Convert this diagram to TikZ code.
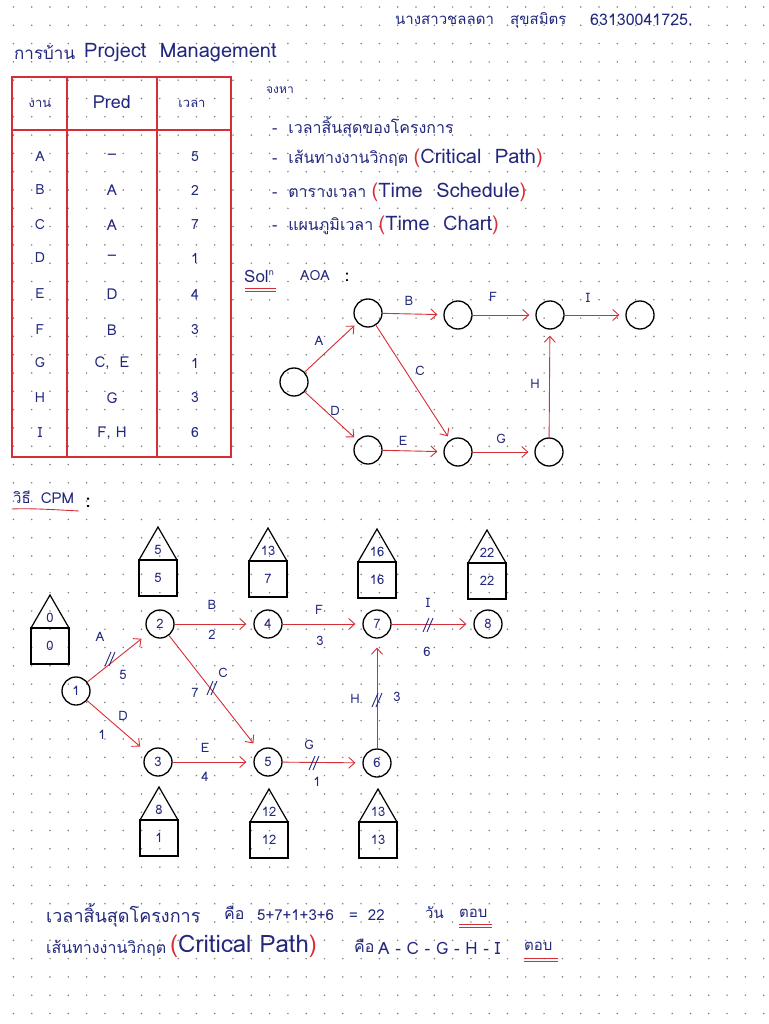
\documentclass[tikz,border=0pt]{standalone}
\usepackage{fontspec}
\setmainfont[Script=Thai]{Loma}
\usetikzlibrary{arrows.meta}
\definecolor{inkblue}{RGB}{35,40,125}
\definecolor{redink}{RGB}{215,45,55}
\definecolor{dotgray}{RGB}{125,125,125}
\newcommand\fs[1]{\fontsize{#1}{#1}\selectfont}
\newcommand\rp[1]{{\color{redink}#1}}
\tikzset{
  txt/.style={text=inkblue, inner sep=0pt},
  lbl/.style={text=inkblue, inner sep=0pt, font=\fs{13}},
  circ/.style={circle, draw=black, line width=1.3pt, minimum size=28pt, inner sep=0pt, text=inkblue, font=\fs{13}},
  redarr/.style={draw=redink, line width=0.9pt, -{Straight Barb[length=6pt,width=11pt,line width=0.9pt]}},
  slashst/.style={draw=inkblue, line width=0.9pt},
  houseline/.style={draw=black, line width=1.2pt},
  tline/.style={draw=redink, line width=1.1pt},
  uline/.style={draw=redink, line width=0.9pt}
}
% house: name, centre x, base y, roof value, box value
\newcommand\hse[5]{%
  \draw[houseline] ({#2-19},#3) -- (#2,{#3-33}) -- ({#2+19},#3) -- cycle;
  \draw[houseline] ({#2-19},#3) rectangle ({#2+19},{#3+36});
  \node[lbl] (#1r) at (#2,{#3-10}) {#4};
  \node[lbl] (#1b) at (#2,{#3+18}) {#5};}
\begin{document}
\begin{tikzpicture}[x=1pt,y=-1pt]
\useasboundingbox (0,0) rectangle (768,1024);
\fill[white] (0,0) rectangle (768,1024);
% dotted paper
\foreach \i in {0,...,41}{\foreach \j in {0,...,55}{\fill[dotgray] ({13.4+18.3*\i},{7+18.3*\j}) circle (0.85);}}

% header
\node[txt, anchor=west, font=\fs{15}] (name) at (395,20) {นางสาวชลลดา};
\node[txt, anchor=west, font=\fs{15}] (sname) at (510,20) {สุขสมิตร};
\node[txt, anchor=west, font=\fs{16}] (sid) at (590,20) {63130041725.};
\node[txt, anchor=west, font=\fs{17}] (hw) at (14,52) {การบ้าน};
\node[txt, anchor=west, font=\fs{20}] (pm) at (84,52) {Project\ \ Management};

% table
\draw[tline] (12,77) rectangle (231,457);
\draw[tline] (67,77) -- (67,457) (157,77) -- (157,457) (12,130) -- (231,130);
\node[txt, font=\fs{13}] (hTask) at (40,104) {งาน};
\node[txt, font=\fs{18}] (hPred) at (112,102) {Pred};
\node[txt, font=\fs{13}] (hTime) at (192,104) {เวลา};
\foreach \t/\p/\d/\y [count=\k] in {A/--/5/157, B/A/2/190, C/A/7/225, D/--/1/258, E/D/4/294, F/B/3/330, G/{C,\ \ E}/1/363, H/G/3/398, I/{F,\ H}/6/433}{
  \node[txt, font=\fs{14}] (t\k) at (40,\y) {\t};
  \node[txt, font=\fs{15}] (p\k) at (112,\y) {\p};
  \node[txt, font=\fs{14}] (d\k) at (195,\y) {\d};
}

% find list
\node[txt, anchor=west, font=\fs{12}] (find) at (266,90) {จงหา};
\node[txt, anchor=west, font=\fs{16}] (q1) at (272,127) {-\ \ เวลาสิ้นสุดของโครงการ};
\node[txt, anchor=west, font=\fs{16}] (q2) at (272,158) {-\ \ เส้นทางงานวิกฤต {\fs{20}\rp{(}Critical\ \ Path\rp{)}}};
\node[txt, anchor=west, font=\fs{16}] (q3) at (272,192) {-\ \ ตารางเวลา {\fs{20}\rp{(}Time\ \ Schedule\rp{)}}};
\node[txt, anchor=west, font=\fs{16}] (q4) at (272,225) {-\ \ แผนภูมิเวลา {\fs{20}\rp{(}Time\ \ Chart\rp{)}}};

% Sol AOA
\node[txt, anchor=west, font=\fs{17}] (sol) at (244,276) {Sol\textsuperscript{\fs{9}n}};
\draw[uline] (245,288) -- (276,288) (245,291.5) -- (276,291.5);
\node[txt, anchor=west, font=\fs{14}] (aoa) at (300,276) {AOA};
\node[inner sep=0pt, font=\fs{16}\bfseries] (col1) at (347,277) {:};

% AOA network
\node[circ] (a1) at (294,382) {};
\node[circ] (a2) at (368,313) {};
\node[circ] (a3) at (458,315) {};
\node[circ] (a4) at (550,315) {};
\node[circ] (a5) at (640,315) {};
\node[circ] (a6) at (368,450) {};
\node[circ] (a7) at (458,452) {};
\node[circ] (a8) at (549,452) {};
\draw[redarr, shorten >=4pt] (a1) -- (a2);
\draw[redarr, shorten >=6pt] (a2) -- (a3);
\draw[redarr, shorten >=6pt] (a3) -- (a4);
\draw[redarr, shorten >=6pt] (a4) -- (a5);
\draw[redarr, shorten >=4pt] (a2) -- (a7);
\draw[redarr, shorten >=4pt] (a1) -- (a6);
\draw[redarr, shorten >=6pt] (a6) -- (a7);
\draw[redarr, shorten >=6pt] (a7) -- (a8);
\draw[redarr, shorten >=6pt] (a8) -- (a4);
\node[lbl] (lA) at (319,341) {A};
\node[lbl] (lB) at (409,301) {B};
\node[lbl] (lF) at (493,297) {F};
\node[lbl] (lI) at (588,298) {I};
\node[lbl] (lC) at (420,371) {C};
\node[lbl] (lD) at (335,411) {D};
\node[lbl] (lE) at (403,441) {E};
\node[lbl] (lG) at (501,439) {G};
\node[lbl] (lH) at (535,384) {H};

% CPM title
\node[txt, anchor=west, font=\fs{15}] (cpm) at (13,497) {วิธี\ \ CPM};
\draw[uline] (12,509) .. controls (30,508) and (60,510) .. (79,511);
\node[inner sep=0pt, font=\fs{18}\bfseries] (col2) at (88,503) {:};

% CPM network
\node[circ] (c1) at (76,691) {1};
\node[circ] (c2) at (160,624) {2};
\node[circ] (c4) at (268,624) {4};
\node[circ] (c7) at (377,624) {7};
\node[circ] (c8) at (488,624) {8};
\node[circ] (c3) at (158,762) {3};
\node[circ] (c5) at (268,762) {5};
\node[circ] (c6) at (377,763) {6};

\hse{h1}{50}{628}{0}{0}
\hse{h2}{158}{560}{5}{5}
\hse{h4}{268}{561}{13}{7}
\hse{h7}{377}{562}{16}{16}
\hse{h8}{487}{563}{22}{22}
\hse{h3}{159}{820}{8}{1}
\hse{h5}{269}{822}{12}{12}
\hse{h6}{378}{822}{13}{13}

\draw[redarr, shorten >=9pt] (c1) -- (c2);
\draw[redarr, shorten >=7pt] (c2) -- (c4);
\draw[redarr, shorten >=7pt] (c4) -- (c7);
\draw[redarr, shorten >=7pt] (c7) -- (c8);
\draw[redarr, shorten >=9pt] (c2) -- (c5);
\draw[redarr, shorten >=9pt] (c1) -- (c3);
\draw[redarr, shorten >=7pt] (c3) -- (c5);
\draw[redarr, shorten >=7pt] (c5) -- (c6);
\draw[redarr, shorten >=9pt] (c6) -- (c7);

\node[lbl] (kA) at (100,637) {A};
\node[lbl] (vA) at (123,675) {5};
\node[lbl] (kB) at (212,605) {B};
\node[lbl] (vB) at (212,635) {2};
\node[lbl] (kF) at (319,610) {F};
\node[lbl] (vF) at (320,641) {3};
\node[lbl] (kI) at (428,603) {I};
\node[lbl] (vI) at (427,652) {6};
\node[lbl] (kC) at (223,673) {C};
\node[lbl] (vC) at (195,693) {7};
\node[lbl] (kD) at (123,716) {D};
\node[lbl] (vD) at (102,735) {1};
\node[lbl] (kE) at (205,748) {E};
\node[lbl] (vE) at (205,777) {4};
\node[lbl] (kG) at (309,745) {G};
\node[lbl] (vG) at (317,782) {1};
\node[lbl] (kH) at (355,699) {H};
\node[lbl] (vH) at (397,697) {3};

% critical-path marks
\foreach \x/\y in {110/659, 212/688, 428/625, 314/763, 377/700}{
  \draw[slashst] (\x,\y) ++(-5,7) -- ++(6,-14);
  \draw[slashst] (\x,\y) ++(-1,7) -- ++(6,-14);
}

% answers
\node[txt, anchor=west, font=\fs{18}] (ans1) at (46,915) {เวลาสิ้นสุดโครงการ};
\node[txt, anchor=west, font=\fs{16}] (is1) at (224,913) {คือ};
\node[txt, anchor=west, font=\fs{15}] (sum) at (257,915) {5+7+1+3+6\ \ \ =\ \ 22};
\node[txt, anchor=west, font=\fs{15}] (day) at (425,913) {วัน};
\node[txt, anchor=west, font=\fs{15}] (ok1) at (459,913) {ตอบ};
\draw[uline] (459,924) -- (492,924) (459,927.5) -- (492,927.5);
\node[txt, anchor=west, font=\fs{16}] (ans2) at (46,948) {เส้นทางงานวิกฤต};
\node[txt, anchor=west, font=\fs{24}] (cp2) at (170,946) {\rp{(}Critical\ Path\rp{)}};
\node[txt, anchor=west, font=\fs{16}] (is2) at (354,946) {คือ};
\node[txt, anchor=west, font=\fs{17}] (path) at (378,948) {A\ -\ C\ -\ G\ -\ H\ -\ I};
\node[txt, anchor=west, font=\fs{15}] (ok2) at (524,946) {ตอบ};
\draw[uline] (524,958) -- (558,958) (524,961.5) -- (558,961.5);
\end{tikzpicture}
\end{document}
